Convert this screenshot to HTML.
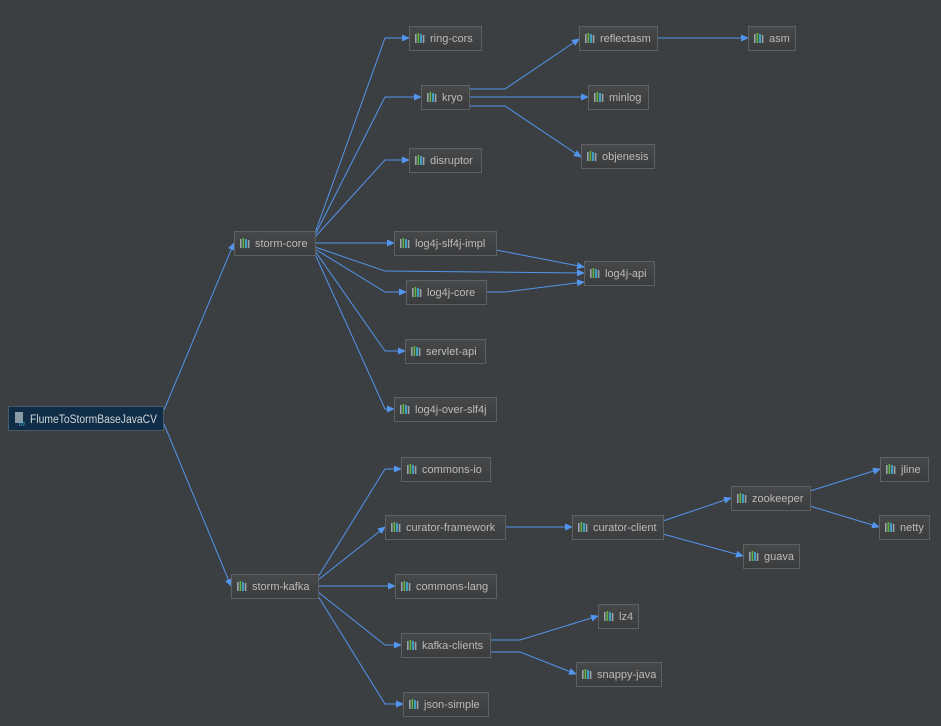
<!DOCTYPE html>
<html><head><meta charset="utf-8"><style>
html,body{margin:0;padding:0;background:#3c3f41;}
svg{display:block;font-family:"Liberation Sans",sans-serif;}
</style></head><body>
<svg width="941" height="726" xmlns="http://www.w3.org/2000/svg">
<defs>
<marker id="a" markerWidth="8" markerHeight="8" refX="7" refY="4" orient="auto" markerUnits="userSpaceOnUse">
<path d="M0,0.5 L8,4 L0,7.5 Z" fill="#5394ec"/></marker>
<linearGradient id="g" x1="0" y1="0" x2="0" y2="1"><stop offset="0" stop-color="#46484a"/><stop offset="1" stop-color="#3a3c3e"/></linearGradient>
<g id="ic"><rect x="0" y="1" width="1.6" height="9" fill="#9aa4ab"/><rect x="2.6" y="0" width="1.6" height="10" fill="#62b543"/><rect x="5.2" y="1" width="1.6" height="9" fill="#40b6e0"/><rect x="7.8" y="2" width="1.6" height="8" fill="#9aa4ab"/></g>
</defs>
<g fill="none" stroke="#5394ec" stroke-width="1" marker-end="url(#a)">
<path d="M164,410 L234,243"/>
<path d="M164,424 L231,586"/>
<path d="M315,233 L385,38 L409,38"/>
<path d="M315,235 L385,97 L421,97"/>
<path d="M315,237 L385,160 L409,160"/>
<path d="M315,243 L394,243"/>
<path d="M315,247 L385,271 L584,273"/>
<path d="M315,249 L385,292 L406,292"/>
<path d="M315,251 L385,351 L405,351"/>
<path d="M315,254 L385,409 L394,409"/>
<path d="M469,89 L505,89 L579,39"/>
<path d="M469,97 L588,97"/>
<path d="M469,106 L505,106 L581,157"/>
<path d="M657,38 L748,38"/>
<path d="M496,250 L584,267"/>
<path d="M486,292 L505,292 L584,282"/>
<path d="M318,577 L385,469 L401,469"/>
<path d="M318,580 L385,527"/>
<path d="M318,586 L395,586"/>
<path d="M318,592 L385,645 L401,645"/>
<path d="M318,596 L385,704 L403,704"/>
<path d="M505,527 L572,527"/>
<path d="M663,521 L731,498"/>
<path d="M663,534 L743,556"/>
<path d="M810,491 L880,469"/>
<path d="M810,506 L879,527"/>
<path d="M490,640 L520,640 L598,616"/>
<path d="M490,652 L520,652 L576,674"/>
</g>
<rect x="8.5" y="406.5" width="155" height="24" fill="#0f2d46" stroke="#4a5a68"/>
<rect x="15" y="412" width="8" height="11" fill="#8a9aa6"/>
<text x="19" y="426" font-size="7" fill="#40b6e0" font-style="italic">m</text>
<text x="30" y="423" font-size="11.5" fill="#d0d4d8" textLength="127" lengthAdjust="spacingAndGlyphs">FlumeToStormBaseJavaCV</text>
<g font-size="11" fill="#bbbbbb">
<rect x="234.5" y="231.5" width="81" height="24" fill="url(#g)" stroke="#5e6062"/><use href="#ic" x="240" y="238"/><text x="255" y="247">storm-core</text>
<rect x="409.5" y="26.5" width="72" height="24" fill="url(#g)" stroke="#5e6062"/><use href="#ic" x="415" y="33"/><text x="430" y="42">ring-cors</text>
<rect x="421.5" y="85.5" width="48" height="24" fill="url(#g)" stroke="#5e6062"/><use href="#ic" x="427" y="92"/><text x="442" y="101">kryo</text>
<rect x="409.5" y="148.5" width="72" height="24" fill="url(#g)" stroke="#5e6062"/><use href="#ic" x="415" y="155"/><text x="430" y="164">disruptor</text>
<rect x="579.5" y="26.5" width="78" height="24" fill="url(#g)" stroke="#5e6062"/><use href="#ic" x="585" y="33"/><text x="600" y="42">reflectasm</text>
<rect x="588.5" y="85.5" width="60" height="24" fill="url(#g)" stroke="#5e6062"/><use href="#ic" x="594" y="92"/><text x="609" y="101">minlog</text>
<rect x="581.5" y="144.5" width="73" height="24" fill="url(#g)" stroke="#5e6062"/><use href="#ic" x="587" y="151"/><text x="602" y="160">objenesis</text>
<rect x="748.5" y="26.5" width="47" height="24" fill="url(#g)" stroke="#5e6062"/><use href="#ic" x="754" y="33"/><text x="769" y="42">asm</text>
<rect x="394.5" y="231.5" width="102" height="24" fill="url(#g)" stroke="#5e6062"/><use href="#ic" x="400" y="238"/><text x="415" y="247">log4j-slf4j-impl</text>
<rect x="584.5" y="261.5" width="70" height="24" fill="url(#g)" stroke="#5e6062"/><use href="#ic" x="590" y="268"/><text x="605" y="277">log4j-api</text>
<rect x="406.5" y="280.5" width="80" height="24" fill="url(#g)" stroke="#5e6062"/><use href="#ic" x="412" y="287"/><text x="427" y="296">log4j-core</text>
<rect x="405.5" y="339.5" width="80" height="24" fill="url(#g)" stroke="#5e6062"/><use href="#ic" x="411" y="346"/><text x="426" y="355">servlet-api</text>
<rect x="394.5" y="397.5" width="102" height="24" fill="url(#g)" stroke="#5e6062"/><use href="#ic" x="400" y="404"/><text x="415" y="413">log4j-over-slf4j</text>
<rect x="231.5" y="574.5" width="87" height="24" fill="url(#g)" stroke="#5e6062"/><use href="#ic" x="237" y="581"/><text x="252" y="590">storm-kafka</text>
<rect x="401.5" y="457.5" width="89" height="24" fill="url(#g)" stroke="#5e6062"/><use href="#ic" x="407" y="464"/><text x="422" y="473">commons-io</text>
<rect x="385.5" y="515.5" width="120" height="24" fill="url(#g)" stroke="#5e6062"/><use href="#ic" x="391" y="522"/><text x="406" y="531">curator-framework</text>
<rect x="572.5" y="515.5" width="91" height="24" fill="url(#g)" stroke="#5e6062"/><use href="#ic" x="578" y="522"/><text x="593" y="531">curator-client</text>
<rect x="731.5" y="486.5" width="79" height="24" fill="url(#g)" stroke="#5e6062"/><use href="#ic" x="737" y="493"/><text x="752" y="502">zookeeper</text>
<rect x="880.5" y="457.5" width="48" height="24" fill="url(#g)" stroke="#5e6062"/><use href="#ic" x="886" y="464"/><text x="901" y="473">jline</text>
<rect x="879.5" y="515.5" width="50" height="24" fill="url(#g)" stroke="#5e6062"/><use href="#ic" x="885" y="522"/><text x="900" y="531">netty</text>
<rect x="743.5" y="544.5" width="56" height="24" fill="url(#g)" stroke="#5e6062"/><use href="#ic" x="749" y="551"/><text x="764" y="560">guava</text>
<rect x="395.5" y="574.5" width="101" height="24" fill="url(#g)" stroke="#5e6062"/><use href="#ic" x="401" y="581"/><text x="416" y="590">commons-lang</text>
<rect x="598.5" y="604.5" width="40" height="24" fill="url(#g)" stroke="#5e6062"/><use href="#ic" x="604" y="611"/><text x="619" y="620">lz4</text>
<rect x="401.5" y="633.5" width="89" height="24" fill="url(#g)" stroke="#5e6062"/><use href="#ic" x="407" y="640"/><text x="422" y="649">kafka-clients</text>
<rect x="576.5" y="662.5" width="85" height="24" fill="url(#g)" stroke="#5e6062"/><use href="#ic" x="582" y="669"/><text x="597" y="678">snappy-java</text>
<rect x="403.5" y="692.5" width="85" height="24" fill="url(#g)" stroke="#5e6062"/><use href="#ic" x="409" y="699"/><text x="424" y="708">json-simple</text>
</g>
</svg>
</body></html>
